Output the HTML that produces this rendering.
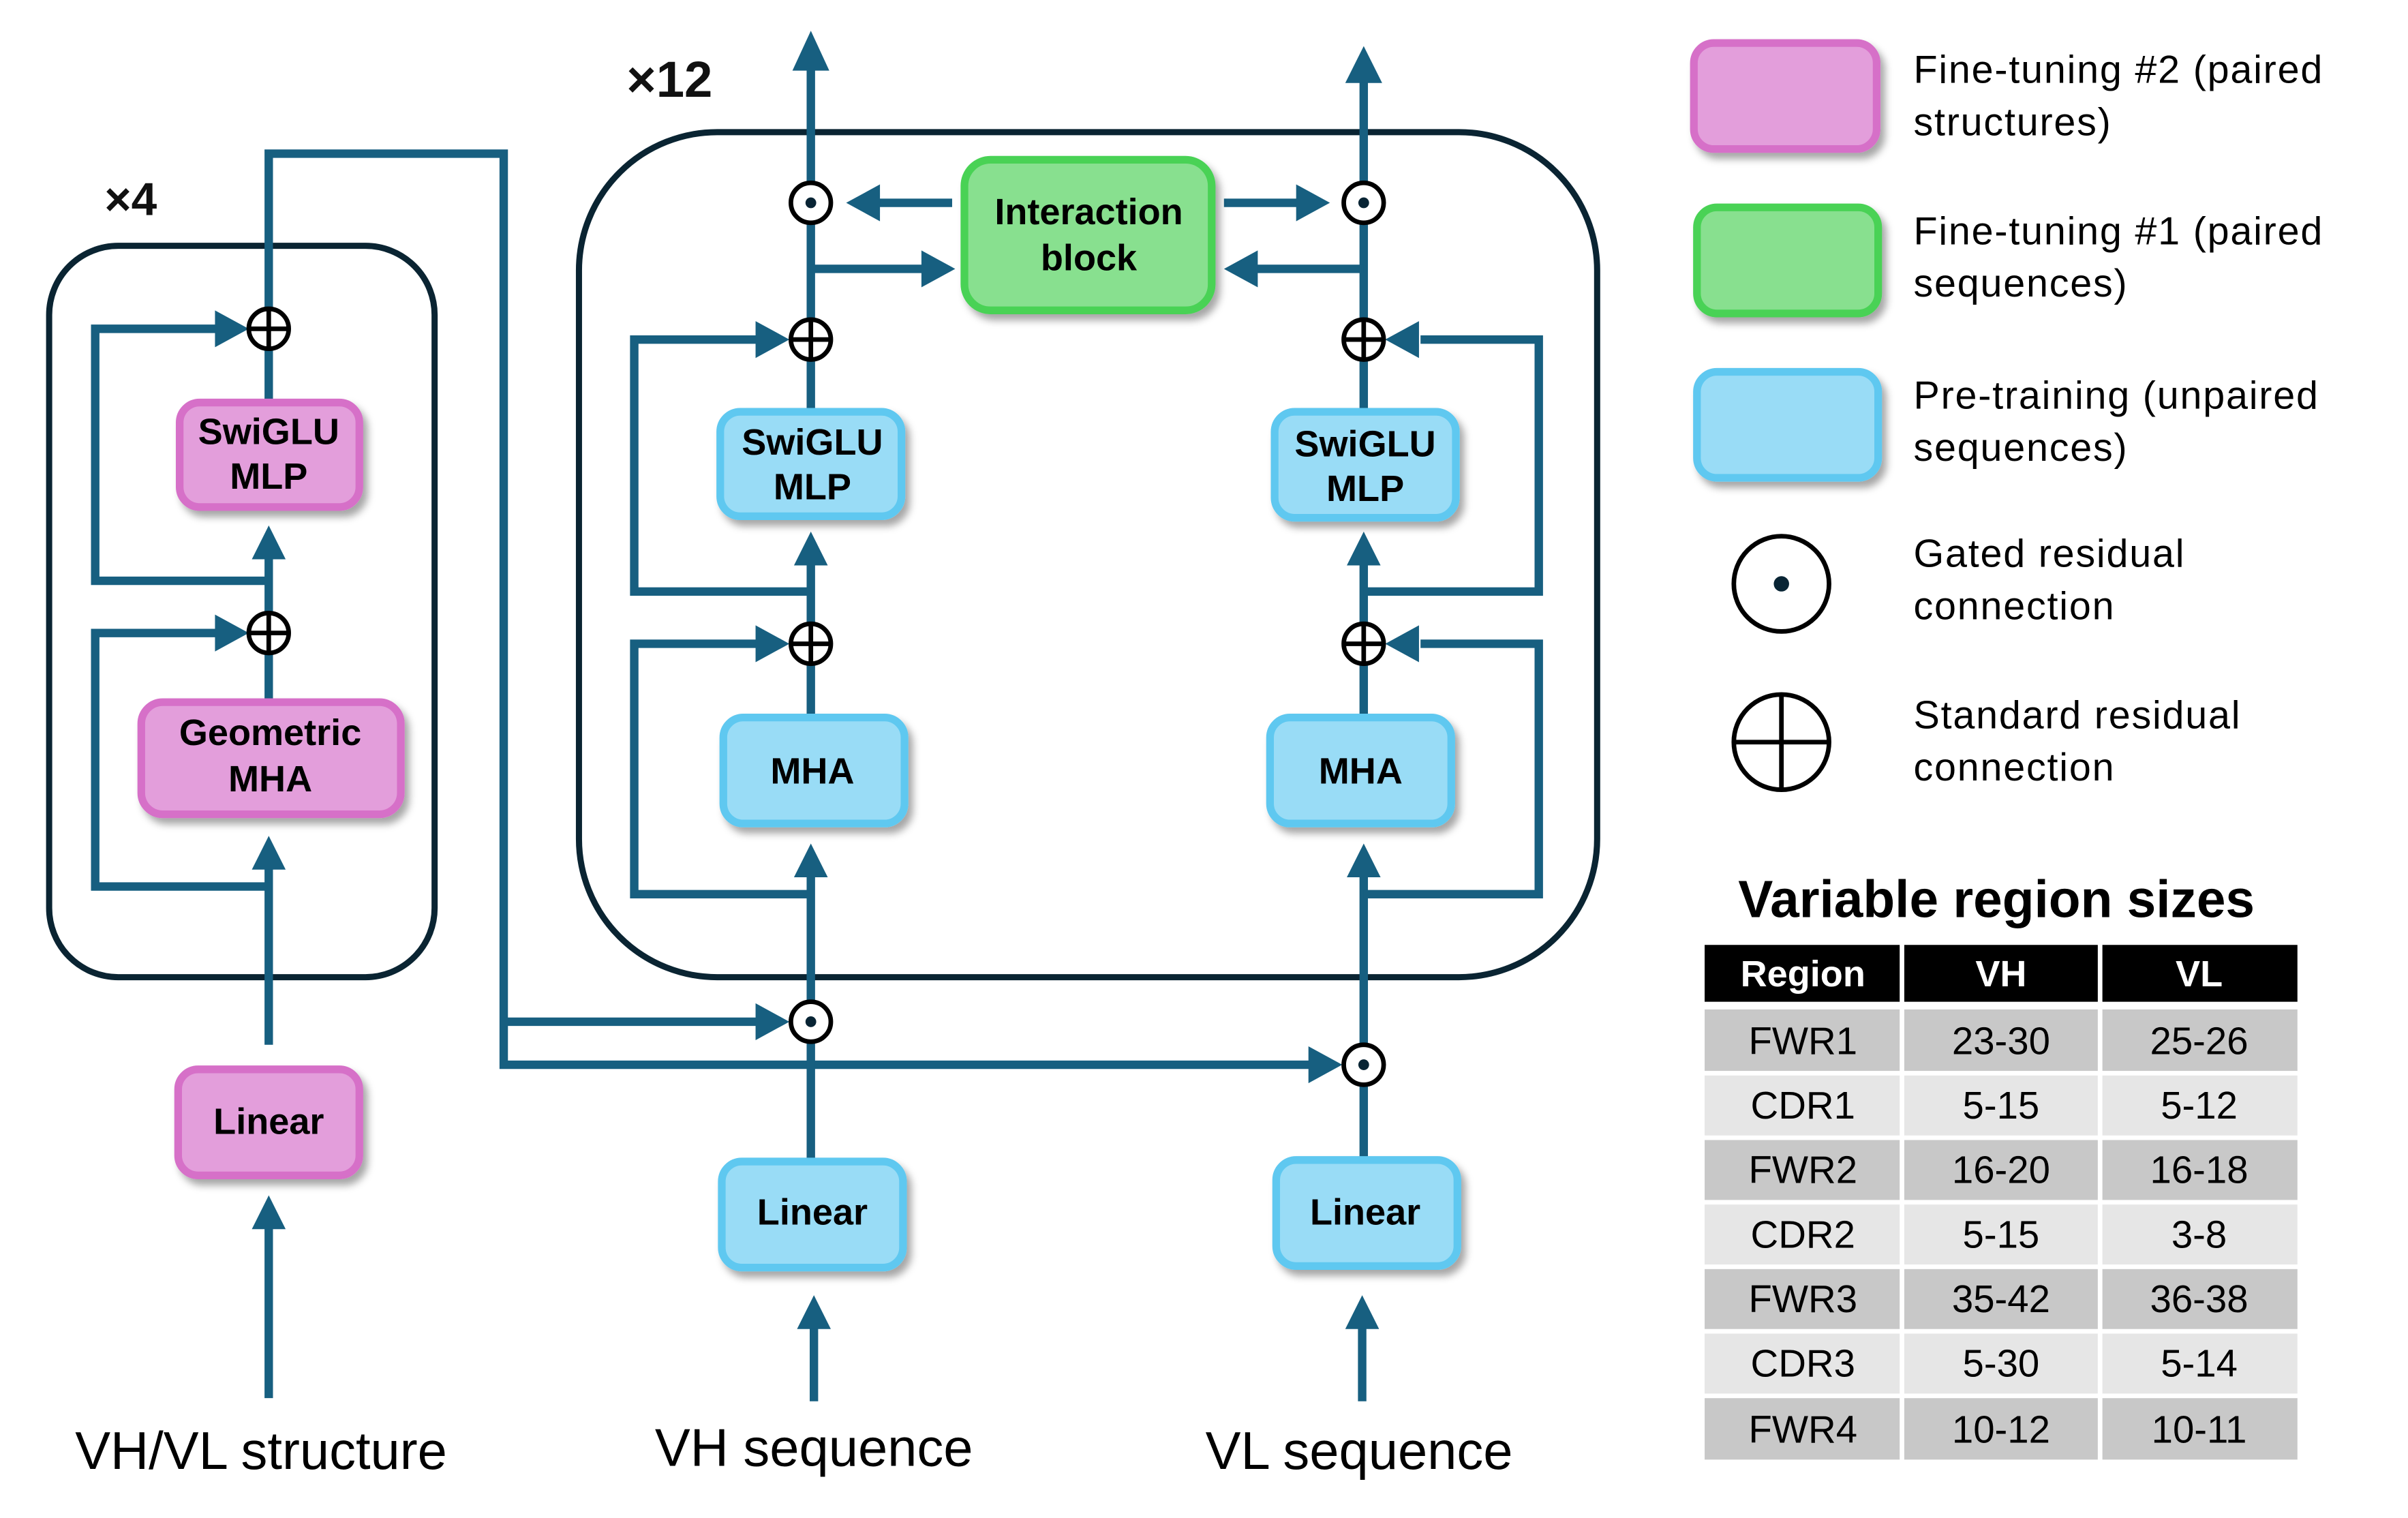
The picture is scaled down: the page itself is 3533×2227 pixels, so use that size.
<!DOCTYPE html>
<html><head><meta charset="utf-8"><style>
html,body{margin:0;padding:0;background:#fff}
svg{display:block}
text{font-family:"Liberation Sans",sans-serif}
</style></head><body>
<svg width="3533" height="2227" viewBox="0 0 1568 988" preserveAspectRatio="none" xmlns="http://www.w3.org/2000/svg">
<defs>
<filter id="sh" x="-20%" y="-20%" width="150%" height="160%"><feDropShadow dx="3" dy="4" stdDeviation="2.5" flood-color="#000" flood-opacity="0.35"/></filter>
</defs>
<g fill="none" stroke="#0a2432" stroke-width="4">
<rect x="32" y="160" width="251" height="476" rx="45"/>
<rect x="377" y="86" width="663" height="550" rx="90"/>
</g>
<text x="68" y="140" font-size="30" font-weight="bold" fill="#111">×4</text>
<text x="408" y="63" font-size="33" font-weight="bold" fill="#111">×12</text>

<g stroke="#175f80" stroke-width="5.5" fill="none">
<line x1="175" y1="910" x2="175" y2="790"/>
<line x1="175" y1="680" x2="175" y2="560"/>
<polyline points="175,577 62,577 62,412 150,412"/>
<line x1="175" y1="456" x2="175" y2="425"/>
<line x1="175" y1="399" x2="175" y2="355"/>
<polyline points="175,378 62,378 62,214 150,214"/>
<line x1="175" y1="262" x2="175" y2="227"/>
<polyline points="175,201 175,100 328,100 328,693 860,693"/>
<line x1="328" y1="665" x2="500" y2="665"/>
<line x1="530" y1="912" x2="530" y2="860"/>
<line x1="528" y1="755" x2="528" y2="679"/>
<line x1="528" y1="651" x2="528" y2="565"/>
<polyline points="528,582 413,582 413,419 500,419"/>
<line x1="528" y1="466" x2="528" y2="432"/>
<line x1="528" y1="406" x2="528" y2="362"/>
<polyline points="528,385 413,385 413,221 500,221"/>
<line x1="528" y1="268" x2="528" y2="234"/>
<line x1="528" y1="208" x2="528" y2="146"/>
<line x1="528" y1="175" x2="605" y2="175"/>
<line x1="528" y1="118" x2="528" y2="40"/>
<line x1="620" y1="132" x2="570" y2="132"/>
<line x1="887" y1="912" x2="887" y2="860"/>
<line x1="888" y1="755" x2="888" y2="707"/>
<line x1="888" y1="679" x2="888" y2="565"/>
<polyline points="888,582 1002,582 1002,419 925,419"/>
<line x1="888" y1="466" x2="888" y2="432"/>
<line x1="888" y1="406" x2="888" y2="362"/>
<polyline points="888,385 1002,385 1002,221 925,221"/>
<line x1="888" y1="268" x2="888" y2="234"/>
<line x1="888" y1="208" x2="888" y2="146"/>
<line x1="888" y1="175" x2="815" y2="175"/>
<line x1="888" y1="118" x2="888" y2="45"/>
<line x1="797" y1="132" x2="848" y2="132"/>
</g>
<g fill="#175f80">
<polygon points="175,778 164,800 186,800"/>
<polygon points="175,544 164,566 186,566"/>
<polygon points="175,342 164,364 186,364"/>
<polygon points="530,843 519,865 541,865"/>
<polygon points="528,549 517,571 539,571"/>
<polygon points="528,346 517,368 539,368"/>
<polygon points="528,20 516,46 540,46"/>
<polygon points="887,843 876,865 898,865"/>
<polygon points="888,549 877,571 899,571"/>
<polygon points="888,346 877,368 899,368"/>
<polygon points="888,30 876,54 900,54"/>
<polygon points="162,214 140,202 140,226"/>
<polygon points="162,412 140,400 140,424"/>
<polygon points="514,221 492,209 492,233"/>
<polygon points="514,419 492,407 492,431"/>
<polygon points="514,665 492,653 492,677"/>
<polygon points="874,693 852,681 852,705"/>
<polygon points="622,175 600,163 600,187"/>
<polygon points="866,132 844,120 844,144"/>
<polygon points="902,221 924,209 924,233"/>
<polygon points="902,419 924,407 924,431"/>
<polygon points="797,175 819,163 819,187"/>
<polygon points="551,132 573,120 573,144"/>
</g>
<g fill="#fff" stroke="#000" stroke-width="3">
<circle cx="175" cy="214" r="13"/><circle cx="175" cy="412" r="13"/>
<circle cx="528" cy="221" r="13"/><circle cx="528" cy="419" r="13"/>
<circle cx="888" cy="221" r="13"/><circle cx="888" cy="419" r="13"/>
<circle cx="528" cy="132" r="13"/><circle cx="888" cy="132" r="13"/>
<circle cx="528" cy="665" r="13"/><circle cx="888" cy="693" r="13"/>
</g>
<g stroke="#000" stroke-width="3">
<path d="M162 214h26M175 201v26M162 412h26M175 399v26M515 221h26M528 208v26M515 419h26M528 406v26M875 221h26M888 208v26M875 419h26M888 406v26"/>
</g>
<g fill="#082434">
<circle cx="528" cy="132" r="3.5"/><circle cx="888" cy="132" r="3.5"/><circle cx="528" cy="665" r="3.5"/><circle cx="888" cy="693" r="3.5"/>
</g>
<g stroke-width="5" filter="url(#sh)">
<g fill="#e39edb" stroke="#d670c8">
<rect x="117" y="262" width="117" height="68" rx="13"/>
<rect x="92" y="457" width="169" height="73" rx="14"/>
<rect x="116" y="696" width="118" height="69" rx="13"/>
<rect x="1103" y="28" width="119" height="69" rx="13"/>
</g>
<g fill="#99dcf6" stroke="#5ec8f0">
<rect x="469" y="268" width="118" height="68" rx="13"/>
<rect x="830" y="268" width="118" height="69" rx="13"/>
<rect x="471" y="467" width="118" height="69" rx="13"/>
<rect x="827" y="467" width="118" height="69" rx="13"/>
<rect x="470" y="756" width="118" height="69" rx="13"/>
<rect x="831" y="755" width="118" height="69" rx="13"/>
<rect x="1105" y="242" width="118" height="69" rx="13"/>
</g>
<g fill="#88e08f" stroke="#48d255">
<rect x="628" y="104" width="161" height="98" rx="17"/>
<rect x="1105" y="135" width="118" height="69" rx="13"/>
</g>
</g>
<g font-size="24" font-weight="bold" text-anchor="middle" fill="#000">
<text x="175" y="289">SwiGLU</text><text x="175" y="318">MLP</text>
<text x="176" y="485">Geometric</text><text x="176" y="515">MHA</text>
<text x="175" y="738">Linear</text>
<text x="529" y="296">SwiGLU</text><text x="529" y="325">MLP</text>
<text x="889" y="297">SwiGLU</text><text x="889" y="326">MLP</text>
<text x="529" y="510">MHA</text><text x="886" y="510">MHA</text>
<text x="529" y="797">Linear</text><text x="889" y="797">Linear</text>
<text x="709" y="146">Interaction</text><text x="709" y="176">block</text>
</g>
<g font-size="34.5" text-anchor="middle" fill="#000">
<text x="170" y="956">VH/VL structure</text>
<text x="530" y="954">VH sequence</text>
<text x="885" y="956">VL sequence</text>
</g>
<g font-size="25.5" fill="#000" letter-spacing="0.8">
<text x="1246" y="54">Fine-tuning #2 (paired</text><text x="1246" y="88">structures)</text>
<text x="1246" y="159">Fine-tuning #1 (paired</text><text x="1246" y="193">sequences)</text>
<text x="1246" y="266">Pre-training (unpaired</text><text x="1246" y="300">sequences)</text>
<text x="1246" y="369">Gated residual</text><text x="1246" y="403">connection</text>
<text x="1246" y="474">Standard residual</text><text x="1246" y="508">connection</text>
</g>
<circle cx="1160" cy="380" r="31" fill="none" stroke="#000" stroke-width="3"/>
<circle cx="1160" cy="380" r="5" fill="#082434"/>
<circle cx="1160" cy="483" r="31" fill="none" stroke="#000" stroke-width="3"/>
<path d="M1129 483h62M1160 452v62" stroke="#000" stroke-width="3"/>
<text x="1300" y="597" font-size="34" font-weight="bold" text-anchor="middle" fill="#000">Variable region sizes</text>
<g fill="#000">
<rect x="1110" y="615" width="127" height="37"/><rect x="1240" y="615" width="126" height="37"/><rect x="1369" y="615" width="127" height="37"/>
</g>
<g font-size="24" font-weight="bold" fill="#fff" text-anchor="middle">
<text x="1174" y="642">Region</text><text x="1303" y="642">VH</text><text x="1432" y="642">VL</text>
</g>
<g>
<g fill="#c8c8c8"><rect x="1110" y="657" width="127" height="40"/><rect x="1240" y="657" width="126" height="40"/><rect x="1369" y="657" width="127" height="40"/></g>
<g fill="#e6e6e6"><rect x="1110" y="700" width="127" height="39"/><rect x="1240" y="700" width="126" height="39"/><rect x="1369" y="700" width="127" height="39"/></g>
<g fill="#c8c8c8"><rect x="1110" y="742" width="127" height="39"/><rect x="1240" y="742" width="126" height="39"/><rect x="1369" y="742" width="127" height="39"/></g>
<g fill="#e6e6e6"><rect x="1110" y="784" width="127" height="39"/><rect x="1240" y="784" width="126" height="39"/><rect x="1369" y="784" width="127" height="39"/></g>
<g fill="#c8c8c8"><rect x="1110" y="826" width="127" height="39"/><rect x="1240" y="826" width="126" height="39"/><rect x="1369" y="826" width="127" height="39"/></g>
<g fill="#e6e6e6"><rect x="1110" y="868" width="127" height="39"/><rect x="1240" y="868" width="126" height="39"/><rect x="1369" y="868" width="127" height="39"/></g>
<g fill="#c8c8c8"><rect x="1110" y="910" width="127" height="40"/><rect x="1240" y="910" width="126" height="40"/><rect x="1369" y="910" width="127" height="40"/></g>
</g>
<g font-size="25" fill="#000" text-anchor="middle">
<text x="1174" y="686">FWR1</text><text x="1303" y="686">23-30</text><text x="1432" y="686">25-26</text>
<text x="1174" y="728">CDR1</text><text x="1303" y="728">5-15</text><text x="1432" y="728">5-12</text>
<text x="1174" y="770">FWR2</text><text x="1303" y="770">16-20</text><text x="1432" y="770">16-18</text>
<text x="1174" y="812">CDR2</text><text x="1303" y="812">5-15</text><text x="1432" y="812">3-8</text>
<text x="1174" y="854">FWR3</text><text x="1303" y="854">35-42</text><text x="1432" y="854">36-38</text>
<text x="1174" y="896">CDR3</text><text x="1303" y="896">5-30</text><text x="1432" y="896">5-14</text>
<text x="1174" y="939">FWR4</text><text x="1303" y="939">10-12</text><text x="1432" y="939">10-11</text>
</g>
</svg>
</body></html>
